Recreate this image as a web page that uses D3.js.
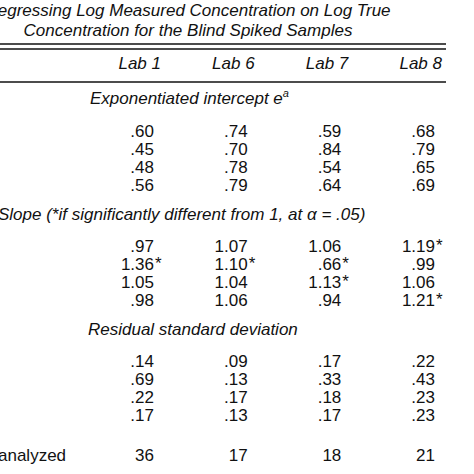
<!DOCTYPE html>
<html>
<head>
<meta charset="utf-8">
<script src="https://cdn.jsdelivr.net/npm/d3@7"></script>
<style>
  body { margin: 0; background: #fff; }
  text { font-family: "Liberation Sans", Arial, sans-serif; font-size: 17px; fill: #111; }
</style>
</head>
<body>
<svg id="table" width="474" height="474"></svg>
<script>
// table content
const labs = ["Lab 1", "Lab 6", "Lab 7", "Lab 8"];
const titleLines = ["Regressing Log Measured Concentration on Log True", "Concentration for the Blind Spiked Samples"];
const interceptRows = [
    [".60", ".74", ".59", ".68"],
    [".45", ".70", ".84", ".79"],
    [".48", ".78", ".54", ".65"],
    [".56", ".79", ".64", ".69"]
];
const slopeRows = [
    [".97", "1.07", "1.06", "1.19*"],
    ["1.36*", "1.10*", ".66*", ".99"],
    ["1.05", "1.04", "1.13*", "1.06"],
    [".98", "1.06", ".94", "1.21*"]
];
const residualRows = [
    [".14", ".09", ".17", ".22"],
    [".69", ".13", ".33", ".43"],
    [".22", ".17", ".18", ".23"],
    [".17", ".13", ".17", ".23"]
];
const analyzed = ["36", "17", "18", "21"];

const svg = d3.select("#table");
const x = d3.scalePoint().domain(labs).range([154, 435]);
const rowY = d3.scaleLinear().domain([0, 1]).range([0, 18]);  // row step

// title
svg.selectAll("text.title").data(titleLines).enter().append("text")
    .attr("class", "title")
    .attr("x", 188).attr("y", (d, i) => 16 + i * 20)
    .attr("text-anchor", "middle").attr("font-style", "italic")
    .text(d => d);

// rules
[44, 49, 82].forEach(y => {
    svg.append("line").attr("x1", 0).attr("x2", 446).attr("y1", y).attr("y2", y)
        .attr("stroke", "#111").attr("stroke-width", 1.6);
});

// header
svg.selectAll("text.head").data(labs).enter().append("text")
    .attr("x", d => x(d) + 7).attr("y", 69)
    .attr("text-anchor", "end").attr("font-style", "italic")
    .text(d => d);

function section(label, lx, ly, rows, y0) {
    svg.append("text").attr("x", lx).attr("y", ly).attr("font-style", "italic").text(label);
    rows.forEach((row, r) => {
        row.forEach((v, c) => {
            const star = v.endsWith("*");
            const num = star ? v.slice(0, -1) : v;
            svg.append("text").attr("x", x(labs[c])).attr("y", y0 + rowY(r))
                .attr("text-anchor", "end").text(num);
            if (star) {
                svg.append("text").attr("x", x(labs[c]) + 1).attr("y", y0 + rowY(r) - 1)
                    .attr("font-size", "13px").text("*");
            }
        });
    });
}

const ic = svg.append("text").attr("x", 90).attr("y", 104).attr("font-style", "italic")
    .text("Exponentiated intercept e");
ic.append("tspan").attr("dy", -7).attr("font-size", "11px").text("a");
section("", 0, 0, interceptRows, 137);
section("Slope (*if significantly different from 1, at \u03b1 = .05)", -2, 220, slopeRows, 252);
section("Residual standard deviation", 88, 335, residualRows, 367);

svg.append("text").attr("x", -2).attr("y", 461).text("analyzed");
svg.selectAll("text.n").data(analyzed).enter().append("text")
    .attr("x", (d, i) => x(labs[i])).attr("y", 461)
    .attr("text-anchor", "end").text(d => d);
</script>
</body>
</html>
